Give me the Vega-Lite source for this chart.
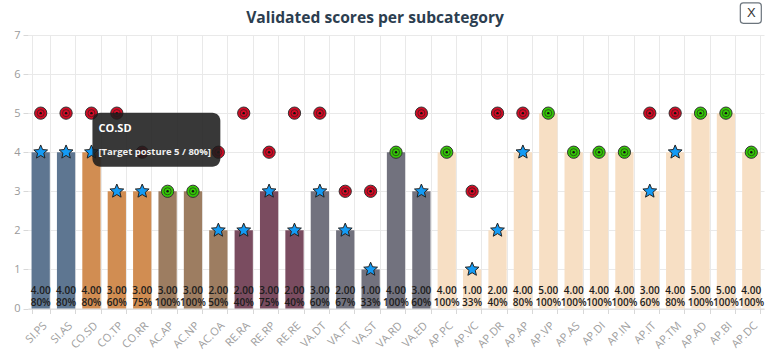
{
"$schema":"https://vega.github.io/schema/vega-lite/v6.json",
"width":736,"height":273.5,"autosize":"none",
"padding":{"left":28,"top":35,"right":4,"bottom":43.5},
"background":"white",
"title":{"text":"Validated scores per subcategory","font":"Open Sans","fontSize":15.6,"fontWeight":"bold","color":"#2c3e50","anchor":"middle","dx":-21,"offset":-24},
"config":{"view":{"stroke":null},"font":"Open Sans",
"axisX":{"tickBand":"extent","labelAngle":-45,"labelColor":"#a0a0a0","labelFontSize":11,"labelPadding":6,"grid":true,"gridColor":"#e9e9e9","domainColor":"#dcdcdc","ticks":true,"tickColor":"#d8d8d8","tickSize":5,"labelFont":"Open Sans"},
"axisY":{"tickCount":7,"labelOverlap":false,"labelBound":false,"labelFlush":false,"labelColor":"#9a9a9a","labelFontSize":11,"grid":true,"gridColor":"#e9e9e9","domain":false,"ticks":true,"tickColor":"#d8d8d8","tickSize":5,"labelPadding":3}},
"datasets":{"rows":[
{"sub":"SI.PS","group":"SI","score":4,"target":5,"pct":0.8},
{"sub":"SI.AS","group":"SI","score":4,"target":5,"pct":0.8},
{"sub":"CO.SD","group":"CO","score":4,"target":5,"pct":0.8},
{"sub":"CO.TP","group":"CO","score":3,"target":5,"pct":0.6},
{"sub":"CO.RR","group":"CO","score":3,"target":4,"pct":0.75},
{"sub":"AC.AP","group":"AC","score":3,"target":3,"pct":1},
{"sub":"AC.NP","group":"AC","score":3,"target":3,"pct":1},
{"sub":"AC.OA","group":"AC","score":2,"target":4,"pct":0.5},
{"sub":"RE.RA","group":"RE","score":2,"target":5,"pct":0.4},
{"sub":"RE.RP","group":"RE","score":3,"target":4,"pct":0.75},
{"sub":"RE.RE","group":"RE","score":2,"target":5,"pct":0.4},
{"sub":"VA.DT","group":"VA","score":3,"target":5,"pct":0.6},
{"sub":"VA.FT","group":"VA","score":2,"target":3,"pct":0.67},
{"sub":"VA.ST","group":"VA","score":1,"target":3,"pct":0.33},
{"sub":"VA.RD","group":"VA","score":4,"target":4,"pct":1},
{"sub":"VA.ED","group":"VA","score":3,"target":5,"pct":0.6},
{"sub":"AP.PC","group":"AP","score":4,"target":4,"pct":1},
{"sub":"AP.VC","group":"AP","score":1,"target":3,"pct":0.33},
{"sub":"AP.DR","group":"AP","score":2,"target":5,"pct":0.4},
{"sub":"AP.AP","group":"AP","score":4,"target":5,"pct":0.8},
{"sub":"AP.VP","group":"AP","score":5,"target":5,"pct":1},
{"sub":"AP.AS","group":"AP","score":4,"target":4,"pct":1},
{"sub":"AP.DI","group":"AP","score":4,"target":4,"pct":1},
{"sub":"AP.IN","group":"AP","score":4,"target":4,"pct":1},
{"sub":"AP.IT","group":"AP","score":3,"target":5,"pct":0.6},
{"sub":"AP.TM","group":"AP","score":4,"target":5,"pct":0.8},
{"sub":"AP.AD","group":"AP","score":5,"target":5,"pct":1},
{"sub":"AP.BI","group":"AP","score":5,"target":5,"pct":1},
{"sub":"AP.DC","group":"AP","score":4,"target":4,"pct":1}
],"tip":[{"name":"CO.SD","detail":"[Target posture 5 / 80%]","close":"X"}]},
"data":{"name":"rows"},
"encoding":{
"x":{"field":"sub","type":"nominal","title":null,"scale":{"domain":["SI.PS","SI.AS","CO.SD","CO.TP","CO.RR","AC.AP","AC.NP","AC.OA","RE.RA","RE.RP","RE.RE","VA.DT","VA.FT","VA.ST","VA.RD","VA.ED","AP.PC","AP.VC","AP.DR","AP.AP","AP.VP","AP.AS","AP.DI","AP.IN","AP.IT","AP.TM","AP.AD","AP.BI","AP.DC"],"paddingInner":0.28,"paddingOuter":0.14}}
},
"layer":[
{"mark":{"type":"bar"},"encoding":{"y":{"field":"score","type":"quantitative","title":null,"scale":{"domain":[0,7],"nice":false}},"color":{"field":"group","type":"nominal","legend":null,"scale":{"domain":["SI","CO","AC","RE","VA","AP"],"range":["#5e7691","#d18d52","#9d7d61","#7a4c60","#72727e","#f7dfc4"]}}}},
{"transform":[{"filter":"datum.score<datum.target"}],"mark":{"type":"point","filled":true,"fill":"#d40a24","stroke":"#333333","strokeWidth":1,"size":150,"opacity":1,"shape":"circle"},"encoding":{"y":{"field":"target","type":"quantitative","title":null}}},
{"transform":[{"filter":"datum.score>=datum.target"}],"mark":{"type":"point","filled":true,"fill":"#35c805","stroke":"#333333","strokeWidth":1,"size":150,"opacity":1,"shape":"circle"},"encoding":{"y":{"field":"target","type":"quantitative","title":null}}},
{"mark":{"type":"point","filled":false,"stroke":"#222222","strokeWidth":0.8,"size":50,"opacity":0.8,"shape":"circle"},"encoding":{"y":{"field":"target","type":"quantitative","title":null}}},
{"mark":{"type":"point","filled":true,"fill":"#111111","size":6,"opacity":1,"shape":"circle"},"encoding":{"y":{"field":"target","type":"quantitative","title":null}}},
{"transform":[{"filter":"datum.score<datum.target"}],"mark":{"type":"point","filled":true,"fill":"#149bf5","stroke":"#222222","strokeWidth":1,"size":210,"opacity":1,"shape":"M0,-1L0.265,-0.364L0.951,-0.309L0.428,0.139L0.588,0.809L0,0.45L-0.588,0.809L-0.428,0.139L-0.951,-0.309L-0.265,-0.364Z"},"encoding":{"y":{"field":"score","type":"quantitative","title":null}}},
{"mark":{"type":"text","fontSize":10,"fontWeight":600,"color":"#1c1c1c","dy":-17.5,"baseline":"middle"},"encoding":{"y":{"datum":0,"type":"quantitative"},"text":{"field":"score","type":"quantitative","format":".2f"}}},
{"mark":{"type":"text","fontSize":10,"fontWeight":600,"color":"#1c1c1c","dy":-6,"baseline":"middle"},"encoding":{"y":{"datum":0,"type":"quantitative"},"text":{"field":"pct","type":"quantitative","format":".0%"}}},
{"data":{"name":"tip"},"mark":{"type":"rect","fill":"#1c1c1c","opacity":0.88,"cornerRadius":8,"xOffset":1,"x2Offset":2},"encoding":{
"x":{"datum":"CO.SD","type":"nominal","bandPosition":0.5},"x2":{"datum":"AC.OA","bandPosition":0.5},"y":{"datum":5.01,"type":"quantitative"},"y2":{"datum":3.63}}},
{"data":{"name":"tip"},"mark":{"type":"text","align":"left","baseline":"middle","color":"white","fontSize":11,"fontWeight":"bold","dx":7},"encoding":{
"x":{"datum":"CO.SD","type":"nominal"},"y":{"datum":4.6,"type":"quantitative"},"text":{"field":"name"}}},
{"data":{"name":"tip"},"mark":{"type":"text","align":"left","baseline":"middle","color":"#f0f0f0","fontSize":9.5,"fontWeight":"bold","dx":7},"encoding":{
"x":{"datum":"CO.SD","type":"nominal"},"y":{"datum":4.0,"type":"quantitative"},"text":{"field":"detail"}}},
{"data":{"name":"tip"},"mark":{"type":"rect","fill":"white","stroke":"#6c757d","strokeWidth":1.2,"cornerRadius":3,"xOffset":-11,"x2Offset":10},"encoding":{
"x":{"datum":"AP.DC","type":"nominal","bandPosition":0.5},"x2":{"datum":"AP.DC","bandPosition":0.5},"y":{"datum":7.82,"type":"quantitative"},"y2":{"datum":7.3}}},
{"data":{"name":"tip"},"mark":{"type":"text","align":"center","baseline":"middle","color":"#333333","fontSize":13,"font":"Liberation Sans"},"encoding":{
"x":{"datum":"AP.DC","type":"nominal"},"y":{"datum":7.56,"type":"quantitative"},"text":{"field":"close"}}}
]
}
